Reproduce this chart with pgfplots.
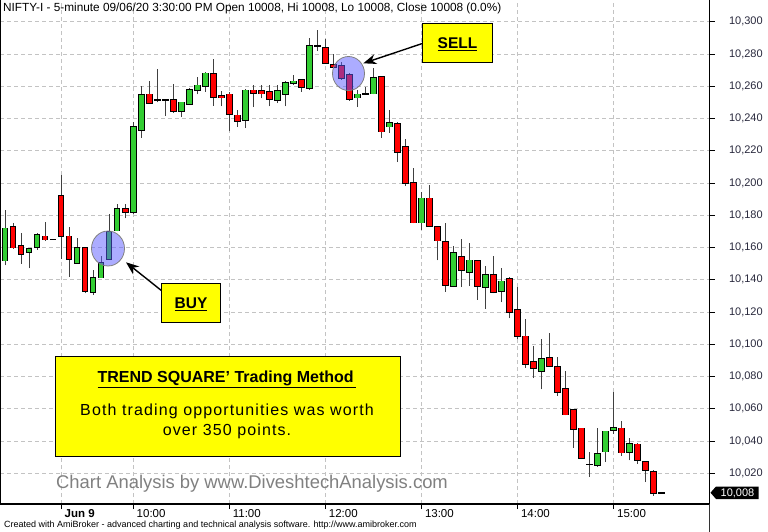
\documentclass[border=0pt]{standalone}
\usepackage{fontspec}
\setmainfont{Liberation Sans}
\usepackage{pgfplots}
\pgfplotsset{compat=1.18}
\usepackage{pgfplotstable}
\usetikzlibrary{arrows.meta}

\definecolor{upgreen}{RGB}{50,205,50}
\definecolor{downred}{RGB}{255,0,0}
\definecolor{gridgray}{RGB}{195,195,195}
\definecolor{notebox}{RGB}{255,255,0}
\definecolor{ringblue}{RGB}{90,90,255}
\definecolor{labelink}{RGB}{40,40,60}

% NIFTY-I 5-minute bars, idx 0 = 09:15 on Jun 9 (negative idx = last bars of Jun 8)
\pgfplotstableread{
idx o h l c
-7 10152 10183 10149 10172
-6 10173 10175 10159 10160
-5 10161 10169 10150 10156
-4 10157 10160 10147 10159
-3 10160.5 10169 10158.5 10168
-2 10167 10176 10164 10165
-1 10165 10165 10165 10165
0 10192 10205 10153 10167
1 10167 10173 10142 10153
2 10150.5 10166 10150 10160
3 10160 10160 10131.5 10133
4 10132.5 10146 10130.5 10141.5
5 10141.5 10155 10141 10150.5
6 10153 10180.5 10152.5 10170
7 10170.5 10187 10170 10184
8 10184 10187 10178 10182
9 10182 10238 10181 10235
10 10233 10260 10228 10254.5
11 10255 10263 10249 10249.5
12 10251.5 10270.5 10250 10251.5
13 10251.5 10252 10241.5 10251.5
14 10251.5 10261.5 10243.5 10244.5
15 10244.5 10250 10241 10250
16 10249 10259 10248.5 10258
17 10257.5 10266 10255 10260.5
18 10260 10269 10256.5 10268
19 10267.5 10277 10248 10253.5
20 10254 10257 10247.5 10253
21 10255 10256.5 10232 10243
22 10242 10245.5 10235 10238.5
23 10239 10258 10234 10257.5
24 10257.5 10261 10247 10256
25 10257 10261 10252.5 10255.5
26 10256.5 10260.5 10247.5 10252
27 10251.5 10261 10249.5 10257
28 10255 10263.5 10247.5 10262
29 10262 10267 10261 10263
30 10264 10264 10256.5 10259.5
31 10259 10290 10257.5 10285
32 10285 10295 10282 10285
33 10284 10289.5 10274 10274.5
34 10273.5 10280 10271 10272
35 10272.5 10275 10264 10265
36 10267 10268 10251 10252
37 10253 10257.5 10247 10255
38 10255.5 10259.5 10255 10255.5
39 10255.5 10271.5 10255 10265
40 10266 10266 10228 10232
41 10235 10245.5 10231 10237.5
42 10236.5 10238 10213 10219
43 10222.5 10227 10198 10200
44 10200 10209 10175 10175.5
45 10175.5 10194.5 10171 10190.5
46 10190.5 10198.5 10173 10173.5
47 10173 10173.5 10152 10164.5
48 10163.5 10175.5 10132.5 10136.5
49 10136 10161 10135.5 10156.5
50 10154.5 10165.5 10135.5 10146
51 10145 10163 10136 10152
52 10152 10152.5 10127.5 10136
53 10135.5 10148.5 10122 10143
54 10143 10155 10131.5 10132.5
55 10133 10147 10126 10139
56 10140.5 10141.5 10116 10120
57 10121.5 10135.5 10103 10105
58 10105 10115.5 10085.5 10088
59 10089 10099 10079 10085.5
60 10083.5 10103 10072 10091
61 10091.5 10107 10086 10086.5
62 10086 10092 10068 10070.5
63 10072.5 10083.5 10056 10056.5
64 10059.5 10060 10036 10047.5
65 10048 10048 10028.8 10029.5
66 10025.5 10033 10018 10025.5
67 10025 10048 10024 10032
68 10033.5 10046.5 10027 10046
69 10047 10070.5 10044.5 10048
70 10048 10052.5 10031 10033
71 10033 10042 10028 10038.5
72 10038 10039 10026 10028
73 10027 10027 10014.5 10022
74 10021 10022 10006 10008
75 10008 10008 10008 10008
}\bars

\begin{document}
\begin{tikzpicture}
\useasboundingbox (0pt,0pt) rectangle (768pt,-532pt);
\begin{axis}[
    at={(0pt,0pt)}, anchor=north west,
    scale only axis, width=709.5pt, height=504pt,
    xmin=-7.636, xmax=80.97,
    ymin=10001, ymax=10313.45,
    axis x line*=bottom, axis y line*=right,
    axis line style={black, line width=1.2pt},
    xtick={0,9,21,33,45,57,69},
    xticklabels={\textbf{Jun 9},10:00,11:00,12:00,13:00,14:00,15:00},
    ytick={10020,10040,...,10300},
    scaled y ticks=false,
    grid=major,
    grid style={gridgray, dash pattern=on 4pt off 3pt, line width=0.9pt},
    tick align=outside,
    major tick length=5pt,
    tick style={black, line width=0.9pt},
    xticklabel style={anchor=north west, xshift=0pt, yshift=3.5pt, font=\fontsize{11.5}{13}\selectfont},
    yticklabel style={anchor=west, xshift=11pt, text=labelink, font=\fontsize{11}{13}\selectfont},
    /pgf/number format/1000 sep={,},
    /pgf/number format/fixed,
    /pgf/number format/precision=0,
    /pgf/number format/assume math mode=true,
]
% wicks
\addplot [draw=none, mark=none,
    error bars/.cd, y dir=plus, y explicit, error mark=none,
    error bar style={draw=black!75, solid, line width=1.1pt}]
  table [x=idx, y=l, y error plus expr=\thisrow{h}-\thisrow{l}] {\bars};
% body outlines
\addplot [draw=none, mark=none,
    error bars/.cd, y dir=both, y explicit, error mark=none,
    error bar style={draw=black, solid, line width=6.6pt}]
  table [x=idx, y expr=(\thisrow{o}+\thisrow{c})/2,
         y error expr=abs(\thisrow{c}-\thisrow{o})/2+0.5] {\bars};
% rising bodies
\addplot [draw=none, mark=none,
    restrict expr to domain={\thisrow{c}-\thisrow{o}}{0.01:1000},
    error bars/.cd, y dir=both, y explicit, error mark=none,
    error bar style={draw=upgreen, solid, line width=4.6pt}]
  table [x=idx, y expr=(\thisrow{o}+\thisrow{c})/2,
         y error expr=abs(\thisrow{c}-\thisrow{o})/2] {\bars};
% falling bodies
\addplot [draw=none, mark=none,
    restrict expr to domain={\thisrow{o}-\thisrow{c}}{0.01:1000},
    error bars/.cd, y dir=both, y explicit, error mark=none,
    error bar style={draw=downred, solid, line width=4.6pt}]
  table [x=idx, y expr=(\thisrow{o}+\thisrow{c})/2,
         y error expr=abs(\thisrow{c}-\thisrow{o})/2] {\bars};
\end{axis}

% frame pieces
\draw[black, line width=1.2pt] (0.6pt,0pt) -- (0.6pt,-504pt);
\draw[black!80, line width=1.2pt] (709.5pt,-504pt) -- (709.5pt,-532pt);

% header and footer text
\node[anchor=west, inner sep=0pt, font=\fontsize{11.8}{13}\selectfont]
  at (3pt,-8pt) {NIFTY-I - 5-minute 09/06/20 3:30:00 PM Open 10008, Hi 10008, Lo 10008, Close 10008 (0.0\%)};
\node[anchor=west, inner sep=0pt, text=black!50, font=\fontsize{18.4}{20}\selectfont]
  at (56pt,-484pt) {Chart Analysis by www.DiveshtechAnalysis.com};
\node[anchor=west, inner sep=0pt, font=\fontsize{9}{9}\selectfont]
  at (4pt,-525.5pt) {Created with AmiBroker - advanced charting and technical analysis software. http://www.amibroker.com};

% last price tag
\fill[black] (710.5pt,-492.7pt) -- (716pt,-486.5pt) -- (758.5pt,-486.5pt) -- (758.5pt,-499pt) -- (716pt,-499pt) -- cycle;
\node[text=white, inner sep=0pt, font=\fontsize{11}{13}\selectfont] at (737.5pt,-492.9pt) {10,008};

% buy / sell markers
\draw[gray, line width=0.8pt, fill=ringblue, fill opacity=0.5] (108pt,-248.5pt) ellipse [x radius=16.5pt, y radius=17.5pt];
\draw[gray, line width=0.8pt, fill=ringblue, fill opacity=0.5] (348.5pt,-73.5pt) ellipse [x radius=16pt, y radius=17pt];
\draw[black, line width=1.4pt, -{Stealth[length=13pt, width=10pt]}] (162pt,-291pt) -- (126pt,-262.3pt);
\draw[black, line width=1.4pt, -{Stealth[length=13pt, width=10pt]}] (423pt,-43.3pt) -- (363.3pt,-63.3pt);

\draw[black, line width=0.9pt, fill=notebox] (161.7pt,-283.3pt) rectangle (220pt,-322.7pt);
\node[font=\bfseries\fontsize{15.5}{17}\selectfont] at (191pt,-304pt) {\underline{BUY}};
\draw[black, line width=0.9pt, fill=notebox] (422.7pt,-23.3pt) rectangle (492.3pt,-62.7pt);
\node[font=\bfseries\fontsize{15.5}{17}\selectfont] at (457.5pt,-44pt) {\underline{SELL}};

% method note
\draw[black, line width=0.9pt, fill=notebox] (55pt,-356pt) rectangle (400pt,-456pt);
\node[font=\bfseries\fontsize{16}{18}\selectfont] at (227pt,-379pt) {\underline{TREND SQUARE' Trading Method\,}};
\node[align=center, font=\fontsize{16}{20}\selectfont\addfontfeatures{LetterSpace=7}] at (227pt,-421pt)
  {Both trading opportunities was worth\\over 350 points.};
\end{tikzpicture}
\end{document}
